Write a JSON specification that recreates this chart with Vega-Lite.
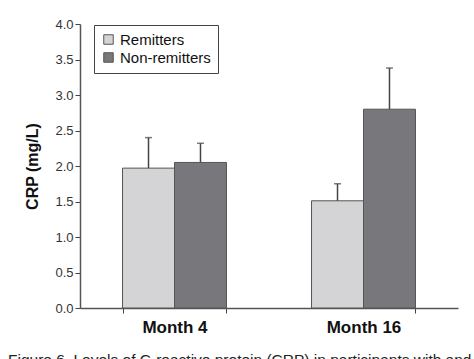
{
  "$schema": "https://vega.github.io/schema/vega-lite/v6.json",
  "width": 378,
  "height": 284,
  "autosize": {"type": "none"},
  "padding": {"left": 80, "top": 24, "right": 16, "bottom": 51},
  "background": "white",
  "title": {
    "text": "Figure 6.  Levels of C-reactive protein (CRP) in participants with and",
    "orient": "bottom",
    "anchor": "start",
    "frame": "group",
    "offset": 18,
    "dx": -72,
    "font": "Liberation Sans",
    "fontSize": 15.5,
    "fontWeight": "normal",
    "color": "#222"
  },
  "data": {
    "values": [
      {"month": "Month 4", "group": "Remitters", "value": 1.97, "upper": 2.40},
      {"month": "Month 4", "group": "Non-remitters", "value": 2.05, "upper": 2.32},
      {"month": "Month 16", "group": "Remitters", "value": 1.51, "upper": 1.75},
      {"month": "Month 16", "group": "Non-remitters", "value": 2.80, "upper": 3.38}
    ]
  },
  "encoding": {
    "x": {
      "field": "month",
      "type": "nominal",
      "sort": ["Month 4", "Month 16"],
      "scale": {"paddingInner": 0.45, "paddingOuter": 0.225},
      "axis": {
        "title": null,
        "labelAngle": 0,
        "labelFont": "Liberation Sans",
        "labelFontSize": 17,
        "labelFontWeight": "bold",
        "labelColor": "#111",
        "labelPadding": 6,
        "tickBand": "extent",
        "tickSize": 5,
        "tickColor": "#444",
        "domainColor": "#555",
        "domainWidth": 1.5
      }
    },
    "xOffset": {
      "field": "group",
      "type": "nominal",
      "sort": ["Remitters", "Non-remitters"],
      "scale": {"paddingInner": 0, "paddingOuter": 0}
    }
  },
  "layer": [
    {
      "mark": {"type": "bar", "stroke": "#555", "strokeWidth": 1},
      "encoding": {
        "y": {
          "field": "value",
          "type": "quantitative",
          "scale": {"domain": [0, 4], "nice": false},
          "axis": {"title": "CRP (mg/L)", "values": [0, 0.5, 1, 1.5, 2, 2.5, 3, 3.5, 4]}
        },
        "color": {
          "field": "group",
          "type": "nominal",
          "scale": {"domain": ["Remitters", "Non-remitters"], "range": ["#d4d4d6", "#78787c"]},
          "legend": {
            "title": null,
            "orient": "none",
            "legendX": 14,
            "legendY": 1,
            "symbolType": "square",
            "symbolSize": 90,
            "symbolStrokeColor": "#555",
            "symbolStrokeWidth": 1,
            "labelFont": "Liberation Sans",
            "labelFontSize": 15,
            "labelColor": "#111",
            "rowPadding": 2,
            "fillColor": "white",
            "strokeColor": "#444",
            "padding": 7
          }
        }
      }
    },
    {
      "mark": {"type": "rule", "color": "#444", "strokeWidth": 1.5},
      "encoding": {
        "y": {"field": "value", "type": "quantitative", "axis": {"title": "CRP (mg/L)", "values": [0, 0.5, 1, 1.5, 2, 2.5, 3, 3.5, 4]}},
        "y2": {"field": "upper"}
      }
    },
    {
      "mark": {"type": "tick", "color": "#444", "size": 7, "thickness": 1.5},
      "encoding": {
        "y": {"field": "upper", "type": "quantitative", "axis": {"title": "CRP (mg/L)", "values": [0, 0.5, 1, 1.5, 2, 2.5, 3, 3.5, 4]}}
      }
    }
  ],
  "config": {
    "view": {"stroke": null},
    "axisY": {
      "titleFont": "Liberation Sans",
      "titleFontSize": 16,
      "titleFontWeight": "bold",
      "titleColor": "#111",
      "titlePadding": 14,
      "format": ".1f",
      "labelOverlap": false,
      "labelFont": "Liberation Sans",
      "labelFontSize": 13,
      "labelColor": "#333",
      "labelPadding": 2,
      "tickSize": 5,
      "tickColor": "#444",
      "domainColor": "#555",
      "domainWidth": 1.5,
      "grid": false
    }
  }
}
